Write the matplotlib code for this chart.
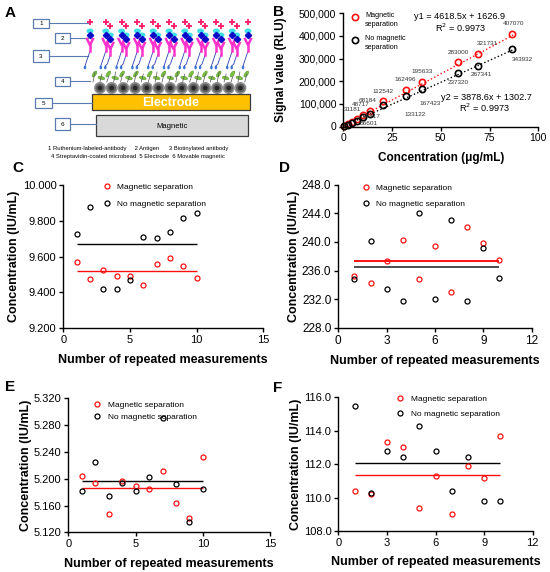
import numpy as np
import matplotlib
matplotlib.use('Agg')
from matplotlib import pyplot as plt
from matplotlib.patches import Rectangle, Circle, Ellipse
from matplotlib.ticker import FuncFormatter, MultipleLocator

plt.rcParams['font.family'] = ['Liberation Sans', 'DejaVu Sans']

W, H = 550, 572

# ---- data ----
# panel B: calibration
conc = [0.5, 2.2, 4.6, 7.2, 10.3, 13.7, 20.5, 32.0, 40.3, 59.0, 69.2, 86.7]
signal_mag = [3000, 9000, 18000, 31181, 48717, 68184, 112542, 162496, 195633, 283000, 321731, 407070]
signal_nomag = [2500, 7000, 14000, 25000, 40000, 56601, 94417, 133122, 167423, 237320, 267341, 343932]
fit_mag = (4618.5, 1626.9)
fit_nomag = (3878.6, 1302.7)
r2_mag = 0.9973
r2_nomag = 0.9973

# panels C-F: repeated measurements
runs = list(range(1, 11))
c_mag = [9.568, 9.473, 9.524, 9.494, 9.490, 9.444, 9.557, 9.594, 9.550, 9.483]
c_nomag = [9.729, 9.878, 9.420, 9.417, 9.471, 9.707, 9.703, 9.739, 9.813, 9.846]
d_mag = [235.3, 234.2, 237.3, 240.3, 234.8, 239.4, 233.0, 242.1, 239.9, 237.4]
d_nomag = [234.8, 240.1, 233.4, 231.8, 244.1, 232.0, 243.1, 231.8, 239.2, 234.9]
e_mag = [5.204, 5.193, 5.148, 5.197, 5.189, 5.184, 5.211, 5.163, 5.141, 5.232]
e_nomag = [5.182, 5.225, 5.174, 5.194, 5.181, 5.202, 5.291, 5.192, 5.136, 5.185]
f_mag = [110.4, 110.2, 113.3, 113.0, 109.4, 111.3, 109.0, 111.9, 111.2, 113.7]
f_nomag = [115.5, 110.3, 112.8, 112.4, 114.3, 112.8, 110.4, 112.4, 109.8, 109.8]

RED = '#FF1010'
fig = plt.figure(figsize=(W / 100, H / 100), dpi=100)


def px_axes(l, t, r, b):
    return fig.add_axes([l / W, 1 - b / H, (r - l) / W, (b - t) / H])


def style(ax, fs=8):
    for s in ['top', 'right']:
        ax.spines[s].set_visible(False)
    for s in ['left', 'bottom']:
        ax.spines[s].set_linewidth(1.0)
    ax.tick_params(direction='out', length=3, width=1.0, labelsize=fs, pad=2)


def letter(x, y, s):
    fig.text(x / W, 1 - y / H, s, fontsize=11, fontweight='bold', ha='center', va='center')


# ---- panel A : schematic ----
ax = px_axes(0, 0, 275, 160)
ax.set_xlim(0, 275)
ax.set_ylim(160, 0)
ax.axis('off')
edge = '#5a7bb0'
boxes = [(33, 19, 16, 9, '1', 88, 23), (55, 33, 15, 10, '2', 88, 38),
         (33, 50, 16, 12, '3', 88, 56), (55, 77, 15, 9, '4', 90, 81),
         (35, 98, 17, 10, '5', 92, 103), (55, 118, 15, 12, '6', 96, 124)]
for bx, by, bw, bh, t, lx, ly in boxes:
    ax.add_patch(Rectangle((bx, by), bw, bh, fc='white', ec=edge, lw=0.9))
    ax.text(bx + bw / 2, by + bh / 2, t, fontsize=4.5, ha='center', va='center')
    ax.plot([bx + bw, lx], [ly, ly], color=edge, lw=0.8)

# streptavidin leaves
for j in range(23):
    x = 93 + j * 6.9
    ax.plot([x, x + 2], [82, 72 + (j % 3) * 2], color='#555555', lw=0.5)
    ax.add_patch(Ellipse((x + 1.5, 74 + (j % 2) * 4), 3.2, 7, angle=35 + (j % 2) * 70,
                         fc='#7cc242', ec='#4a8a22', lw=0.3))
# beads
for i in range(13):
    cx = 100 + i * 11.7
    ax.add_patch(Circle((cx, 88), 6, fc='#8f8f8f', ec='none'))
    ax.add_patch(Circle((cx, 88), 4.3, fc='#5e5e5e', ec='none'))
    ax.add_patch(Circle((cx, 88), 2.3, fc='#262626', ec='none'))

# antibodies
for k in range(11):
    base = 90 + k * 15.8
    offs = [(0, 0)] if k in (0, 10) else [(0, 0), (4.5, 4)]
    for dx, dy in offs:
        x = base + dx
        ax.plot([x, x - 3, x - 5], [51 + dy, 60 + dy, 66], color='#3040b0', lw=0.6)
        ax.add_patch(Ellipse((x - 5, 67.5), 2.6, 3.6, fc='#3c78d8', ec='none'))
        ax.plot([x - 3, x, x + 3], [39 + dy, 45 + dy, 39 + dy], color='#ff33cc', lw=1.8)
        ax.plot([x, x], [45 + dy, 51 + dy], color='#ff33cc', lw=1.8)
        ax.add_patch(Ellipse((x, 31 + dy), 7, 5, fc='#3ee0e6', ec='none'))
        ax.plot(x, 35 + dy, marker='D', ms=3.2, color='#0a0ac8', ls='none')
        ax.plot(x, 22 + dy, marker='+', ms=5, mew=1.3, color='#ff1a66', ls='none')

ax.add_patch(Rectangle((92, 94), 158, 16, fc='#ffc000', ec='#3a3a3a', lw=0.9))
ax.text(171, 102.5, 'Electrode', color='white', fontsize=9, fontweight='bold',
        ha='center', va='center')
ax.add_patch(Rectangle((96, 115), 152, 21, fc='#d9d9d9', ec='#3a3a3a', lw=0.9))
ax.text(172, 126, 'Magnetic', fontsize=5.5, ha='center', va='center')
ax.text(138, 148, '1 Ruthenium-labeled-antibody     2 Antigen      3 Biotinylated antibody',
        fontsize=4.2, ha='center', va='center')
ax.text(138, 156, '4 Streptavidin-coated microbead  5 Electrode  6 Movable magnetic',
        fontsize=4.2, ha='center', va='center')

# ---- panel B : calibration ----
ax = px_axes(343.3, 13.3, 538.3, 126.5)
style(ax, 7.5)
xx = np.array([0, conc[-1] + 1.5])
ax.plot(xx, fit_mag[0] * xx + fit_mag[1], ls=':', color=RED, lw=1.0)
ax.plot(xx, fit_nomag[0] * xx + fit_nomag[1], ls=':', color='black', lw=1.0)
ax.plot(conc, signal_mag, 'o', mfc='none', mec=RED, ms=4.5, mew=1.2, clip_on=False)
ax.plot(conc, signal_nomag, 'o', mfc='none', mec='black', ms=4.5, mew=1.2, clip_on=False)
red_off = [None, None, None, (-5, 10), (-3, 11), (-2, 11), (0, 10), (0, 10), (0, 11),
           (0, 10), (9, 10), (1, 11)]
blk_off = [None] * 5 + [(-1, -10), (-12, -11), (9, -18), (8, -15), (0, -10), (3, -9), (10, -11)]
for x, y, o in zip(conc, signal_mag, red_off):
    if o:
        ax.annotate(str(y), (x, y), xytext=o, textcoords='offset pixels',
                    fontsize=4.6, ha='center', va='center', color='#333333')
for x, y, o in zip(conc, signal_nomag, blk_off):
    if o:
        ax.annotate(str(y), (x, y), xytext=o, textcoords='offset pixels',
                    fontsize=4.6, ha='center', va='center', color='#333333')
ax.set_xlim(0, 100)
ax.set_ylim(0, 500000)
ax.xaxis.set_major_locator(MultipleLocator(25))
ax.yaxis.set_major_locator(MultipleLocator(100000))
ax.yaxis.set_major_formatter(FuncFormatter(lambda v, p: f'{int(v):,}'))
ax.set_xlabel('Concentration (μg/mL)', fontsize=8.5, fontweight='bold', labelpad=6)
ax.set_ylabel('Signal value (RLU)', fontsize=8.5, fontweight='bold')
ax.yaxis.set_label_coords((287 - 343.3) / 195, 0.5)

# legend of panel B (marker next to the first text line)
ax.plot([0.06], [0.97], 'o', transform=ax.transAxes, mfc='none', mec=RED, ms=4.5, mew=1.2, clip_on=False)
ax.plot([0.06], [0.764], 'o', transform=ax.transAxes, mfc='none', mec='black', ms=4.5, mew=1.2, clip_on=False)
ax.text(0.111, 0.97 + 0.04, 'Magnetic\nseparation', transform=ax.transAxes, fontsize=5.2,
        va='top', ha='left', linespacing=1.3)
ax.text(0.111, 0.764 + 0.04, 'No magnetic\nseparation', transform=ax.transAxes, fontsize=5.2,
        va='top', ha='left', linespacing=1.3)
ax.text((459 - 343.3) / 195, (126.5 - 16.7) / 113.2,
        f'y1 = {fit_mag[0]}x + {fit_mag[1]}', transform=ax.transAxes, fontsize=6.6, ha='center', va='center')
ax.text((460 - 343.3) / 195, (126.5 - 27.3) / 113.2,
        f'R$^2$ = {r2_mag}', transform=ax.transAxes, fontsize=6.6, ha='center', va='center')
ax.text((486.5 - 343.3) / 195, (126.5 - 97.3) / 113.2,
        f'y2 = {fit_nomag[0]}x + {fit_nomag[1]}', transform=ax.transAxes, fontsize=6.6, ha='center', va='center')
ax.text((484 - 343.3) / 195, (126.5 - 108.3) / 113.2,
        f'R$^2$ = {r2_nomag}', transform=ax.transAxes, fontsize=6.6, ha='center', va='center')


# ---- panels C-F ----
def rep_panel(box, mag, nomag, xlim, xstep, ylim, ystep, fmt, ylab_x, leg, spacing, blk_col='black', lw=1.0, fs=8):
    ax = px_axes(*box)
    style(ax, fs)
    ax.hlines(np.mean(nomag), runs[0], runs[-1], color=blk_col, lw=lw)
    ax.hlines(np.mean(mag), runs[0], runs[-1], color=RED, lw=lw)
    ax.plot(runs, mag, 'o', mfc='none', mec=RED, ms=3.6, mew=0.9, label='Magnetic separation')
    ax.plot(runs, nomag, 'o', mfc='none', mec='black', ms=3.6, mew=0.9, label='No magnetic separation')
    ax.set_xlim(*xlim)
    ax.set_ylim(*ylim)
    ax.xaxis.set_major_locator(MultipleLocator(xstep))
    ax.yaxis.set_major_locator(MultipleLocator(ystep))
    ax.yaxis.set_major_formatter(FuncFormatter(lambda v, p: fmt % v))
    ax.set_xlabel('Number of repeated measurements', fontsize=9, fontweight='bold', labelpad=6)
    ax.set_ylabel('Concentration (IU/mL)', fontsize=9, fontweight='bold')
    ax.yaxis.set_label_coords((ylab_x - box[0]) / (box[2] - box[0]), 0.5)
    ax.legend(loc='upper left', bbox_to_anchor=(leg[0] / W, 1 - leg[1] / H),
              bbox_transform=fig.transFigure, frameon=False, fontsize=6,
              handlelength=0.8, handletextpad=0.86, labelspacing=spacing,
              borderpad=0, borderaxespad=0)
    return ax


rep_panel((63.3, 185, 263.3, 328.3), c_mag, c_nomag, (0, 15), 5, (9.2, 10.0), 0.2, '%.3f',
          20, (103.4, 183.4), 1.05)
rep_panel((338.3, 184.7, 531.7, 327.7), d_mag, d_nomag, (0, 12), 3, (228, 248), 4, '%.1f',
          300, (362.4, 184.1), 0.96, blk_col='#4d4d4d', lw=1.4, fs=8.5)
rep_panel((68.3, 398.3, 270.3, 532.3), e_mag, e_nomag, (0, 15), 5, (5.12, 5.32), 0.04, '%.3f',
          32, (94, 400.8), 0.55)
rep_panel((338.3, 397.3, 532.7, 531), f_mag, f_nomag, (0, 12), 3, (108, 116), 2, '%.1f',
          302, (396.7, 395.1), 0.91)

letter(10, 13, 'A')
letter(279, 12, 'B')
letter(18, 168, 'C')
letter(285, 168, 'D')
letter(10, 387, 'E')
letter(278, 388, 'F')

fig.savefig('out.png', dpi=100)
